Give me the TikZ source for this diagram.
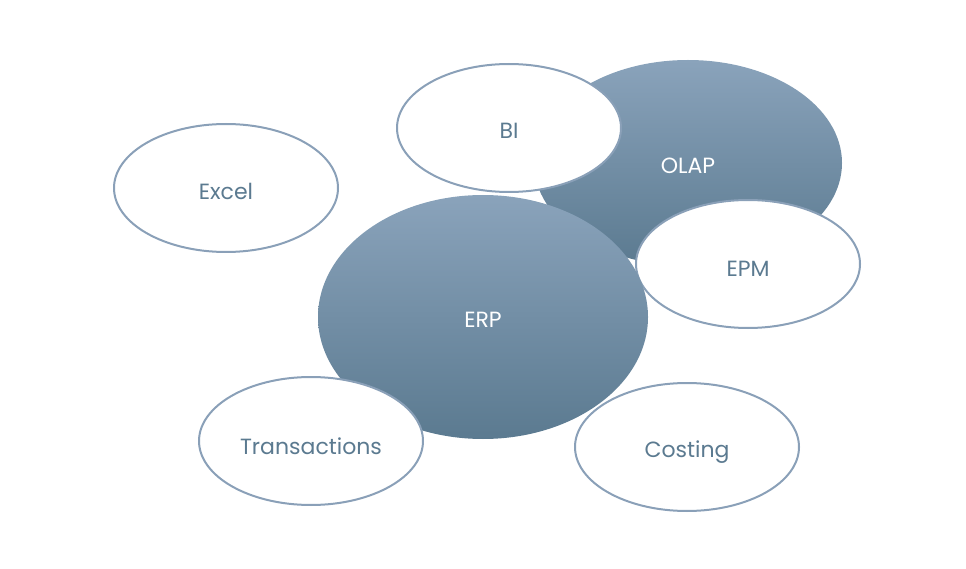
\documentclass[tikz,border=0pt]{standalone}
\usepackage{fontspec}
\setmainfont{Poppins}
\definecolor{edge}{HTML}{8AA0B8}
\definecolor{txt}{HTML}{5B7A90}
\definecolor{gtop}{HTML}{8AA3BB}
\definecolor{gbot}{HTML}{5B7A90}
\begin{document}
\begin{tikzpicture}[x=1pt,y=-1pt,
  light/.style={draw=edge,line width=2pt,fill=white},
  dark/.style={top color=gtop,bottom color=gbot},
  lbl/.style={font=\fontsize{22}{26}\selectfont,text=txt},
  wlbl/.style={font=\fontsize{22}{26}\selectfont,text=white}]
\useasboundingbox (0,0) rectangle (966,569);
\path[dark] (688,163) ellipse [x radius=154,y radius=103];
\node[wlbl] (olap) at (688,166) {OLAP};
\path[light] (509,128) ellipse [x radius=112,y radius=64];
\node[lbl] (bi) at (509,131) {BI};
\path[light] (748,264) ellipse [x radius=112,y radius=64];
\node[lbl] (epm) at (748,269) {EPM};
\path[dark] (483,317) ellipse [x radius=165,y radius=122];
\node[wlbl] (erp) at (483,320) {ERP};
\path[light] (311,441) ellipse [x radius=112,y radius=64];
\node[lbl] (tr) at (311,446) {Transactions};
\path[light] (687,447) ellipse [x radius=112,y radius=64];
\node[lbl] (co) at (687,452) {Costing};
\path[light] (226,188) ellipse [x radius=112,y radius=64];
\node[lbl] (ex) at (226,191) {Excel};
\end{tikzpicture}
\end{document}
